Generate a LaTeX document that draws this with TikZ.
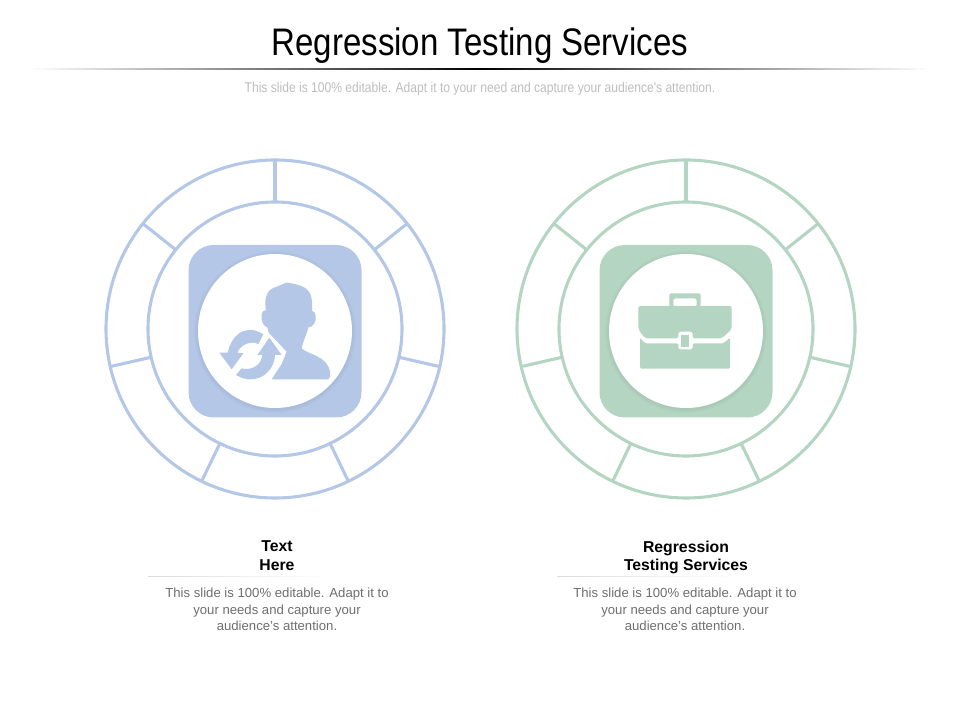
\documentclass[tikz,border=0pt]{standalone}
\usepackage{fontspec}
\setmainfont{Liberation Sans}
\newfontfamily\narrowfont[FakeStretch=0.86]{Liberation Sans}
\usepackage{xcolor}
\usepackage{tikz}
\definecolor{ringblue}{HTML}{B4C7E7}
\definecolor{ringgreen}{HTML}{B3D5C1}
\definecolor{bodygray}{HTML}{6E6E6E}
\definecolor{subgray}{HTML}{BDBDBD}
\tikzset{
  ringline/.style={line width=2.2pt},
  tilebox/.style={rounded corners=18},
  titlelab/.style={font=\narrowfont\fontsize{27.3}{30}\selectfont, text=black},
  sublab/.style={font=\narrowfont\fontsize{10}{12}\selectfont, text=subgray},
  headlab/.style={font=\bfseries\fontsize{11.2}{13.4}\selectfont, text=black, align=center},
  bodylab/.style={font=\fontsize{9.35}{11.7}\selectfont, text=bodygray, align=center},
}

\begin{document}
\begin{tikzpicture}[x=0.025cm,y=-0.025cm]
  \useasboundingbox (0,0) rectangle (960,720);
  % heading
  \node[titlelab] (title) at (480,46) {Regression Testing Services};
  \shade[left color=white,right color=black] (30,68.5) rectangle (480,69.8);
  \shade[left color=black,right color=white] (480,68.5) rectangle (930,69.8);
  \node[sublab] (subtitle) at (480,88.5) {This slide is 100\% editable. Adapt it to your need and capture your audience's attention.};
  % the two rings
  \foreach \cx/\ringcol in {275/ringblue,686/ringgreen}{
    \begin{scope}[shift={(\cx,329)}]
      \draw[ringline,draw=\ringcol] (0,0) circle [radius=169];
      \draw[ringline,draw=\ringcol] (0,0) circle [radius=127];
      \foreach \a in {0,...,6}
        \draw[ringline,draw=\ringcol] (-90+\a*51.43:127) -- (-90+\a*51.43:169);
      \fill[tilebox,fill=\ringcol] (-86.5,-84) rectangle (86.5,88.5);
      % soft edge round the hole
      \foreach \r in {78,79,80,81}
        \fill[black,opacity=0.012] (0,3) circle [radius=\r];
      \fill[white] (0,2) circle [radius=77];
    \end{scope}
  }
  % person icon
  \begin{scope}[shift={(180,240)},scale=1/3]
    \fill[ringblue] (320,128) .. controls (350,132) and (378,138) .. (390,160)
      .. controls (398,178) and (396,195) .. (396,212)
      .. controls (410,215) and (410,240) .. (402,252)
      .. controls (398,260) and (390,262) .. (385,262)
      .. controls (380,285) and (370,300) .. (365,325)
      .. controls (385,345) and (440,345) .. (450,395)
      -- (450,410) -- (445,418) -- (275,418) -- (305,372) -- (320,335)
      -- (266,278) -- (262,262)
      .. controls (250,258) and (243,245) .. (245,225)
      .. controls (246,215) and (252,210) .. (258,210)
      .. controls (252,180) and (258,150) .. (285,142)
      .. controls (298,138) and (310,130) .. (320,128) -- cycle;
    % refresh arrows
    \fill[ringblue] (250,283) .. controls (215,258) and (160,265) .. (143,338)
      -- (118,338) -- (155,388) -- (190,340) -- (172,338)
      .. controls (180,316) and (212,300) .. (235,312) -- cycle;
    \fill[ringblue] (268,293) -- (305,345) -- (285,345)
      .. controls (283,400) and (225,440) .. (168,405)
      -- (185,385) .. controls (210,392) and (243,380) .. (247,345)
      -- (232,345) -- cycle;
  \end{scope}
  % briefcase icon
  \begin{scope}[shift={(590,240)},scale=1/3]
    \fill[ringgreen,even odd rule,rounded corners=1.5] (238,160) rectangle (332,200) (250,175) rectangle (320,200);
    \fill[ringgreen,rounded corners=1.5] (145,198) -- (425,198) -- (425,268) -- (395,295) -- (308,295)
      -- (308,275) -- (265,275) -- (265,295) -- (165,295) -- (145,268) -- cycle;
    \fill[ringgreen,rounded corners=1] (150,293) -- (165,310) -- (265,310) -- (265,328) -- (308,328)
      -- (308,310) -- (400,310) -- (420,293) -- (420,386) -- (150,386) -- cycle;
    \fill[ringgreen] (274,284) rectangle (298,320);
  \end{scope}
  % captions
  \node[headlab] (headleft) at (277,555.5) {Text\\Here};
  \shade[left color=black!14,right color=white] (148,576) rectangle (330,576.8);
  \node[bodylab] (bodyleft) at (277,609.5) {This slide is 100\% editable. Adapt it to\\your needs and capture your\\audience's attention.};
  \node[headlab] (headright) at (686,557.5) {Regression\\Testing Services};
  \shade[left color=black!14,right color=white] (557,576) rectangle (739,576.8);
  \node[bodylab] (bodyright) at (685,609.5) {This slide is 100\% editable. Adapt it to\\your needs and capture your\\audience's attention.};
\end{tikzpicture}
\end{document}
